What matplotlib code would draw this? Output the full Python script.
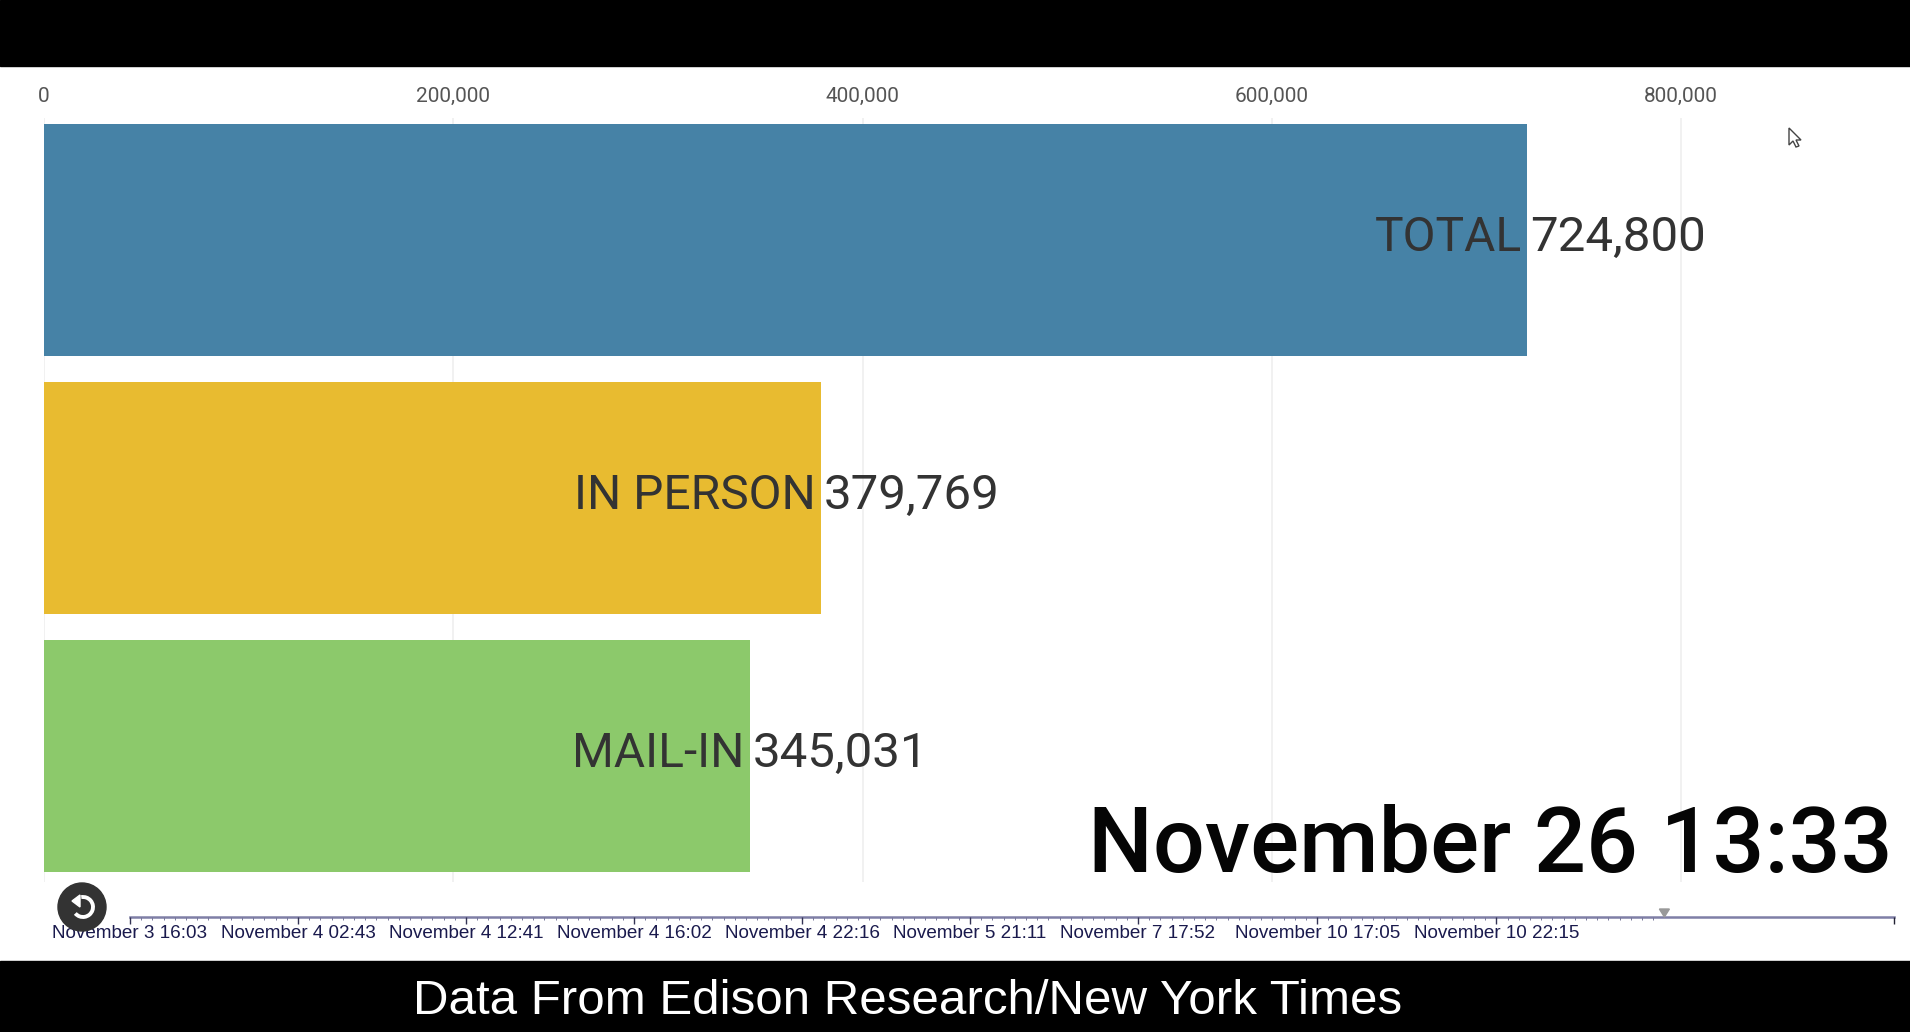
import matplotlib
matplotlib.use("Agg")
import matplotlib.pyplot as plt
from matplotlib.patches import Circle, Polygon, Rectangle, Arc
import numpy as np

categories = ["TOTAL", "IN PERSON", "MAIL-IN"]
votes = [724800, 379769, 345031]
bar_colors = ["#4682a6", "#e8bb30", "#8cc96b"]
x_ticks = [0, 200000, 400000, 600000, 800000]
date_label = "November 26 13:33"
caption = "Data From Edison Research/New York Times"
timeline_labels = ["November 3 16:03", "November 4 02:43", "November 4 12:41",
                   "November 4 16:02", "November 4 22:16", "November 5 21:11",
                   "November 7 17:52", "November 10 17:05", "November 10 22:15"]
timeline_frames = [0, 15, 30, 45, 60, 75, 90, 106, 122]
current_frame = 137
last_frame = 157.5

W, H = 1910, 1032
ROBOTO = ["Roboto", "DejaVu Sans"]
SANS = ["Liberation Sans", "DejaVu Sans"]


def px_rect(x0, y0, x1, y1):
    # pixel box, y from the top, to figure fractions
    return [x0 / W, 1 - y1 / H, (x1 - x0) / W, (y1 - y0) / H]


fig = plt.figure(figsize=(W / 100, H / 100), dpi=100, facecolor="white")

# main bar axes
ax = fig.add_axes(px_rect(44, 118, W, 882))
ax.set_xlim(0, (W - 44) / 1637 * 800000)
ax.set_ylim(2.488, -0.473)
y_pos = np.arange(len(categories))
ax.barh(y_pos, votes, height=0.9, color=bar_colors, linewidth=0, zorder=2)
ax.set_xticks(x_ticks)
ax.set_xticklabels([f"{v:,}" for v in x_ticks], family=ROBOTO, fontsize=15, color="#555555")
ax.xaxis.tick_top()
ax.tick_params(axis="x", length=0, pad=9)
ax.set_yticks([])
ax.grid(axis="x", color="#eeeeee", linewidth=1.1, zorder=1)
ax.set_axisbelow(True)
for s in ax.spines.values():
    s.set_visible(False)
for i, v in enumerate(votes):
    ax.annotate(categories[i], (v, i), xytext=(-4, 1.5), textcoords="offset points",
                ha="right", va="center", family=ROBOTO, fontsize=34.5, color="#333333", zorder=3)
    ax.annotate(f"{v:,}", (v, i), xytext=(2, 1.5), textcoords="offset points",
                ha="left", va="center", family=ROBOTO, fontsize=35.5, color="#333333", zorder=3)
ax.patch.set_alpha(0)

# overlay in pixel coordinates
ov = fig.add_axes([0, 0, 1, 1])
ov.set_xlim(0, W)
ov.set_ylim(H, 0)
ov.axis("off")
ov.patch.set_alpha(0)
ov.add_patch(Rectangle((0, 0), W, 66, color="black"))
ov.add_patch(Rectangle((0, 961), W, H - 961, color="black"))
ov.text(1893, 872, date_label, ha="right", va="baseline", family=ROBOTO,
        fontsize=65.8, fontweight="medium", color="#050505")
ov.text(908, 1001, caption, ha="center", va="center", family=SANS, fontsize=35.5, color="white")


def frame_x(frame):
    return 130 + (1894 - 130) * np.asarray(frame) / last_frame


# timeline
tick_x = frame_x(timeline_frames)
ov.plot([130, 1894], [917, 917], color="#7f7fa6", lw=1.8)
ov.vlines(frame_x(np.arange(0, current_frame)), 917, 920, color="#77779a", lw=0.7)
ov.vlines(tick_x, 917, 924, color="#333355", lw=1.0)
ov.vlines(frame_x(last_frame), 917, 924, color="#222233", lw=1.0)
for x, lab in zip(tick_x, timeline_labels):
    ov.text(x, 934, lab, ha="center", va="center", family=SANS, fontsize=13.6, color="#1a1a4d")
cx = float(frame_x(current_frame))
ov.add_patch(Polygon([[cx - 5, 909], [cx + 5, 909], [cx, 917]], color="#999999", zorder=4))

# replay button
ov.add_patch(Circle((82, 907), 24, color="#333333", zorder=5))
ov.add_patch(Arc((83, 907), 20, 20, theta1=-100, theta2=140, color="white", lw=2.8, zorder=6))
ov.add_patch(Polygon([[72, 901], [80, 895], [80, 907]], color="white", zorder=6))

# mouse cursor
ov.add_patch(Polygon([[1789, 128], [1789, 145], [1793, 141], [1796, 147], [1799, 146],
                      [1796, 140], [1801, 140]], fc="white", ec="#444444", lw=1, zorder=6))

fig.savefig("out.png", dpi=100, facecolor="white")
